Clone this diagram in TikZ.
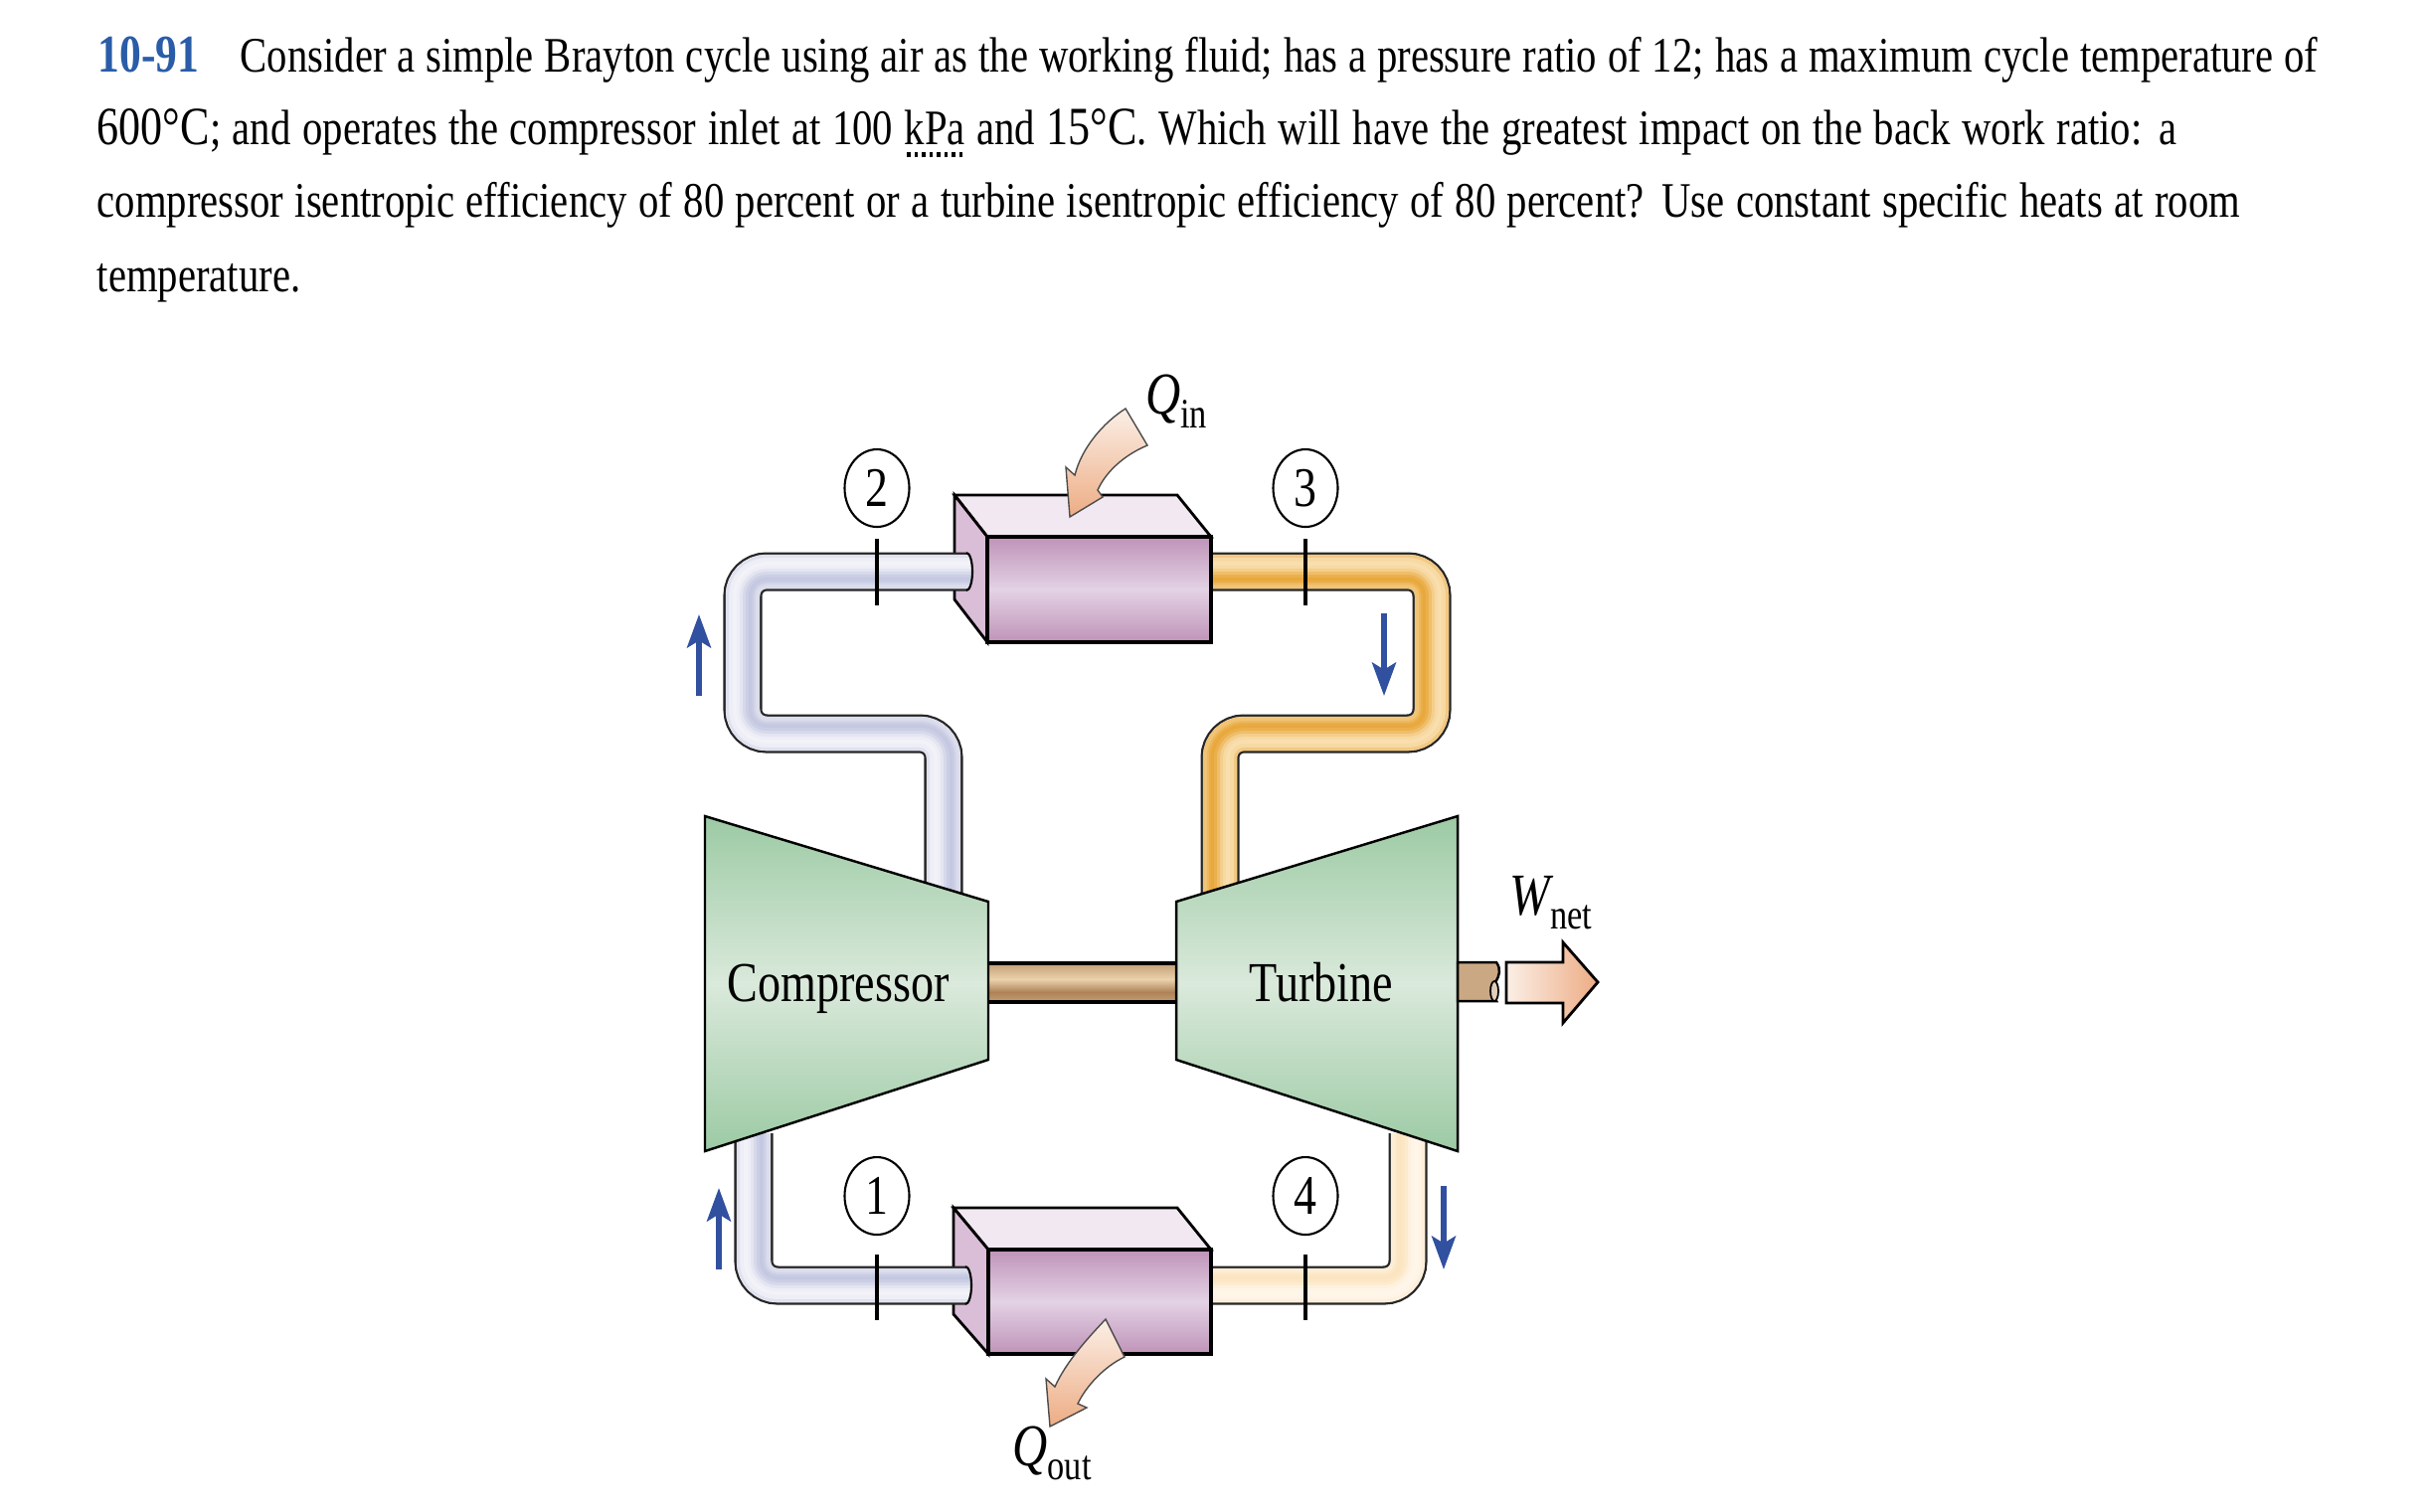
\documentclass[tikz,border=0pt]{standalone}
\usepackage{fontspec}
\setmainfont[FakeStretch=0.815]{Liberation Serif}
\usetikzlibrary{arrows.meta,shapes.geometric}
\definecolor{problemblue}{HTML}{2A5CA8}
\definecolor{flowblue}{HTML}{31509F}
\definecolor{coldlight}{HTML}{F2F2F8}
\definecolor{colddark}{HTML}{C4C8E1}
\definecolor{hotlight}{HTML}{F9DEAE}
\definecolor{hotdark}{HTML}{E8A83C}
\definecolor{warmlight}{HTML}{FFF6EA}
\definecolor{warmdark}{HTML}{FBE4BF}
\definecolor{machinegreen}{HTML}{9CCAA4}
\definecolor{machinelight}{HTML}{DAE9DB}
\definecolor{boxpurple}{HTML}{BF93B8}
\definecolor{boxlight}{HTML}{E3D2E5}
\definecolor{boxtop}{HTML}{F1E8F1}
\definecolor{boxside}{HTML}{DABDD6}
\definecolor{shafttan}{HTML}{C49E76}
\definecolor{shaftlight}{HTML}{E9D2AC}
\definecolor{shaftdark}{HTML}{AE8256}
\definecolor{heatlight}{HTML}{FBEFE6}
\definecolor{heatdark}{HTML}{EDAC84}
\tikzset{
	pipeedge/.style={line width=11.1pt,draw=black!85},
	statecircle/.style={draw,ellipse,line width=0.6pt,minimum width=65*0.01cm,minimum height=78*0.01cm,inner sep=0pt,font=\fontsize{16}{16}\selectfont},
	statetick/.style={line width=1.2pt},
	flowarrow/.style={draw=flowblue,line width=1.6pt,-{Stealth[length=9.5pt,width=6.8pt,inset=2pt]}},
	machinelabel/.style={anchor=base,font=\fontsize{16.1}{16.1}\selectfont},
	textline/.style={anchor=base west,inner sep=0pt,font=\fontsize{14.2}{14.2}\selectfont},
	heatarrow/.style={draw=black!70,line width=0.4pt,top color=heatlight,bottom color=heatdark}
}
% tube drawn as parallel strokes, #1 is its path in terms of \d, \ri and \ro
\newcommand{\pipetube}[3]{
	\def\d{0}\def\ri{24}\def\ro{24}
	\draw[pipeedge] #1;
	\draw[line width=9.8pt,draw=#2] #1;
	\foreach \d/\p in {-15/40,-12/10,-4/10,-1/30,2/60,5/85,8/100,11/90,13/70,15/50}{
		\pgfmathsetmacro\ri{24-\d}
		\pgfmathsetmacro\ro{24+\d}
		\draw[line width=1.1pt,draw=#3!\p!#2] #1;
	}
}
\newcommand{\labelsub}[2]{{\itshape #1}\raisebox{-4pt}{\fontsize{12}{12}\selectfont #2}}
\newcommand{\dotkpa}[1]{\setbox0\hbox{#1}\rlap{\raisebox{-3.8pt}{\hbox to \wd0{\xleaders\hbox to 2pt{\hss\rule{1pt}{1.4pt}\hss}\hfill}}}\box0\relax}
\newcommand{\bigtemp}[1]{{\fontsize{15.4}{15.4}\selectfont #1}}
\begin{document}
\begin{tikzpicture}[x=0.01cm,y=-0.01cm]
	\useasboundingbox (0,0) rectangle (2443,1520);
	% problem text
	\node[textline,text=problemblue,font=\fontsize{15.2}{15.2}\selectfont\bfseries] (number) at (98,72) {10-91};
	\node[textline] (lineone) at (241,72) {\hbox to 20.88cm{Consider a simple Brayton cycle using air as the working fluid; has a pressure ratio of 12; has a maximum cycle temperature of}};
	\node[textline] (linetwo) at (97,145) {\hbox to 20.9cm{\bigtemp{600°C}; and operates the compressor inlet at 100 \dotkpa{kPa} and \bigtemp{15°C}. Which will have the greatest impact on the back work ratio: a}};
	\node[textline] (linethree) at (97,218) {\hbox to 21.54cm{compressor isentropic efficiency of 80 percent or a turbine isentropic efficiency of 80 percent? Use constant specific heats at room}};
	\node[textline] (linefour) at (97,293) {temperature.};
	% pipes behind the boxes and the machines
	\pipetube{(1205,{575+\d}) [rounded corners=\ri*0.01cm] -- ({1440-\d},{575+\d}) [rounded corners=\ri*0.01cm] -- ({1440-\d},{738-\d}) [rounded corners=\ro*0.01cm] -- ({1227-\d},{738-\d}) -- ({1227-\d},930)}{hotlight}{hotdark}
	\pipetube{(1205,{1293-\d}) [rounded corners=\ri*0.01cm] -- ({1416-\d},{1293-\d}) -- ({1416-\d},1140)}{warmlight}{warmdark}
	% heater
	\shade[top color=boxpurple,bottom color=boxpurple,middle color=boxlight] (993,540) rectangle (1218,646);
	\draw[fill=boxtop,line width=0.8pt] (960,498) -- (1184,498) -- (1218,540) -- (993,540) -- cycle;
	\draw[fill=boxside,line width=0.8pt] (960,498) -- (993,540) -- (993,646) -- (960,603) -- cycle;
	\draw[line width=0.9pt] (993,540) rectangle (1218,646);
	% cooler
	\shade[top color=boxpurple,bottom color=boxpurple,middle color=boxlight] (994,1257) rectangle (1218,1362);
	\draw[fill=boxtop,line width=0.8pt] (959,1215) -- (1184,1215) -- (1218,1257) -- (994,1257) -- cycle;
	\draw[fill=boxside,line width=0.8pt] (959,1215) -- (994,1257) -- (994,1362) -- (959,1322) -- cycle;
	\draw[line width=0.9pt] (994,1257) rectangle (1218,1362);
	% cold pipes end inside the side faces
	\begin{scope}
		\clip (600,400) -- (972,400) -- (972,556) arc[start angle=-90,end angle=90,x radius=6,y radius=19] -- (972,1000) -- (600,1000) -- cycle;
		\pipetube{(990,{575+\d}) [rounded corners=\ri*0.01cm] -- ({747+\d},{575+\d}) [rounded corners=\ri*0.01cm] -- ({747+\d},{738-\d}) [rounded corners=\ro*0.01cm] -- ({949+\d},{738-\d}) -- ({949+\d},930)}{coldlight}{colddark}
	\end{scope}
	\draw[line width=0.6pt] (972,556) arc[start angle=-90,end angle=90,x radius=6,y radius=19];
	\begin{scope}
		\clip (600,1100) -- (971,1100) -- (971,1274) arc[start angle=-90,end angle=90,x radius=6,y radius=19] -- (971,1400) -- (600,1400) -- cycle;
		\pipetube{({758+\d},1140) [rounded corners=\ri*0.01cm] -- ({758+\d},{1293-\d}) -- (990,{1293-\d})}{coldlight}{colddark}
	\end{scope}
	\draw[line width=0.6pt] (971,1274) arc[start angle=-90,end angle=90,x radius=6,y radius=19];
	% shaft
	\shade[top color=shafttan,bottom color=shaftlight] (994,969) rectangle (1183,985);
	\shade[top color=shaftlight,bottom color=shaftdark] (994,985) rectangle (1183,998);
	\shade[top color=shaftdark,bottom color=shafttan] (994,998) rectangle (1183,1008);
	\draw[line width=1pt] (994,969) -- (1183,969) (994,1008) -- (1183,1008);
	% compressor and turbine
	\draw[top color=machinegreen,bottom color=machinegreen,middle color=machinelight,line width=0.7pt] (709,821) -- (994,907) -- (994,1066) -- (709,1158) -- cycle;
	\draw[top color=machinegreen,bottom color=machinegreen,middle color=machinelight,line width=0.7pt] (1466,821) -- (1183,907) -- (1183,1066) -- (1466,1158) -- cycle;
	\node[machinelabel] (compressor) at (843,1007) {Compressor};
	\node[machinelabel] (turbine) at (1329,1007) {Turbine};
	% shaft end and work arrow
	\draw[fill=shafttan!90!white,line width=0.7pt] (1466,968) -- (1505,968) .. controls (1510,975) and (1508,982) .. (1504,988) .. controls (1500,995) and (1502,1003) .. (1505,1007) -- (1466,1007) -- cycle;
	\draw[fill=shafttan!50!white,line width=0.5pt] (1503,997) ellipse (4 and 10);
	\draw[left color=heatlight,right color=heatdark,line width=0.8pt] (1515,968) -- (1572,968) -- (1572,948) -- (1607,988) -- (1572,1029) -- (1572,1009) -- (1515,1009) -- cycle;
	\node (wnet) at (1560,908) {\fontsize{17}{17}\selectfont\labelsub{W}{net}};
	% heat arrows
	\path[heatarrow] (1132,411) -- (1154,448) .. controls (1130,458) and (1112,475) .. (1104,493) -- (1109,500) -- (1076,520) -- (1072,470) -- (1081,478) .. controls (1088,450) and (1110,425) .. (1132,411) -- cycle;
	\path[heatarrow] (1112,1327) -- (1131,1365) .. controls (1110,1375) and (1092,1395) .. (1084,1412) -- (1093,1416) -- (1056,1435) -- (1052,1387) -- (1061,1395) .. controls (1072,1370) and (1095,1345) .. (1112,1327) -- cycle;
	\node (qin) at (1183,404) {\fontsize{17}{17}\selectfont\labelsub{Q}{in}};
	\node (qout) at (1058,1462) {\fontsize{17}{17}\selectfont\labelsub{Q}{out}};
	% state points
	\node[statecircle] (stwo) at (882,491) {2};
	\node[statecircle] (sthree) at (1313,491) {3};
	\node[statecircle] (sone) at (882,1203) {1};
	\node[statecircle] (sfour) at (1313,1203) {4};
	\coordinate (ttwo) at (882,609);
	\coordinate (tthree) at (1313,609);
	\coordinate (tone) at (882,1328);
	\coordinate (tfour) at (1313,1328);
	\draw[statetick] (882,542) -- (ttwo);
	\draw[statetick] (1313,542) -- (tthree);
	\draw[statetick] (882,1262) -- (tone);
	\draw[statetick] (1313,1262) -- (tfour);
	% flow direction
	\coordinate (fa) at (703,700);
	\coordinate (fb) at (703,618);
	\coordinate (fc) at (1392,617);
	\coordinate (fd) at (1392,700);
	\coordinate (fe) at (723,1277);
	\coordinate (ff) at (723,1195);
	\coordinate (fg) at (1452,1193);
	\coordinate (fh) at (1452,1277);
	\draw[flowarrow] (fa) -- (fb);
	\draw[flowarrow] (fc) -- (fd);
	\draw[flowarrow] (fe) -- (ff);
	\draw[flowarrow] (fg) -- (fh);
\end{tikzpicture}
\end{document}
